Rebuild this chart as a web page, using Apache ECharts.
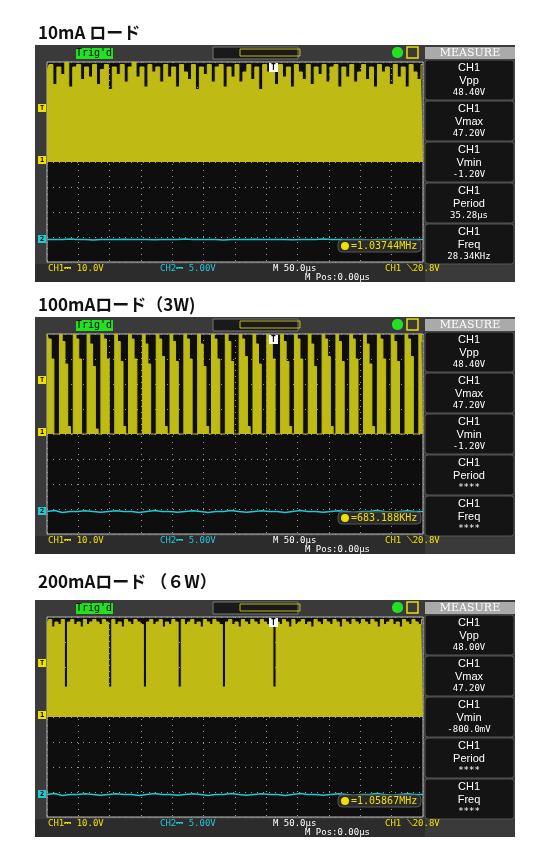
<!DOCTYPE html>
<html><head><meta charset="utf-8">
<script src="https://cdn.jsdelivr.net/npm/echarts@6/dist/echarts.min.js"></script>
<style>html,body{margin:0;padding:0;background:#fff}#c{width:545px;height:855px}</style>
</head><body><div id="c"></div>
<script>
const titles = ['10mA ロード', '100mAロード（3W)', '200mAロード （６W）'];
const measureLabels = ['Vpp', 'Vmax', 'Vmin', 'Period', 'Freq'];
const measureValues = [
  ['48.40V', '47.20V', '-1.20V', '35.28μs', '28.34KHz'],
  ['48.40V', '47.20V', '-1.20V', '****', '****'],
  ['48.00V', '47.20V', '-800.0mV', '****', '****']
];
const freqTexts = ['=1.03744MHz', '=683.188KHz', '=1.05867MHz'];
// CH1 top envelope (V), samples across the screen
const p1Top = [36,39,31,38,35,40,30,38,39,33,38,34,39,31,37,39,29,38,35,39,32,38,40,34,38,30,39,36,38,32,39,34,38,30,39,36,33,39,29,38,35,39,32,38,39,30,38,34,39,32,36,39,33,38,29,39,36,38,31,39,34,38,30,39,36,33,39,31,38,35,39,32,38,39,30,38,34,39,32,36,39,33,38,30,39,36,38,31,39,34,38,30,39,36,33,39];
const p2Top = [40,38,30,0,0,40,37,28,3,0,40,38,30,0,0,40,36,27,2,0,40,38,30,0,0,40,37,29,3,0,40,38,30,0,0,40,36,28,0,0,40,38,31,3,0,40,37,29,0,0,40,38,30,0,0,40,36,27,3,0,40,38,30,0,0,40,37,29,0,0,40,38,31,3,0,40,36,28,0,0,40,38,30,0,0,40,37,29,3,0,40,38,30,0,0,40,36,27,0,0,40,38,31,3,0,40,37,29,0,0,40,38,30,0,0,40,36,28,3,0,40,38,30,0,0,40,37,29,0,0,40,38,31,0,0,40,37];
const p3Top = [37,39,36,38,37,39,12,38,39,37,38,36,39,37,38,39,38,37,39,38,12,39,37,38,36,39,38,37,39,38,37,12,38,39,37,38,39,36,38,37,39,38,12,39,37,38,39,37,38,36,39,38,37,39,38,37,12,38,39,37,38,36,39,38,37,39,38,37,39,38,37,39,12,38,37,39,38,36,39,37,38,39,37,38,36,39,38,37,39,38,37,39,38,36,39,38,37,39,38,37,39,38,37,39,38,36,39,37,38,39,37,38,36,39,38,37,39,38,37,39];
const ch2A = [-31,-31,-31,-30.8,-31,-31,-31.2,-31,-31,-31,-30.9,-31,-31,-31,-31.1,-31,-31,-31,-30.8,-31,-31,-31,-31,-31.2,-31,-31,-31,-30.9,-31,-31,-31,-31,-31.1,-31,-31,-31,-30.8,-31,-31,-31,-31,-31,-31.2,-31,-31,-31,-30.9,-31,-31,-31];
const ch2B = [-31,-30.6,-31.4,-31,-31,-30.7,-31,-31.3,-31,-30.7,-31,-31,-31.4,-31,-30.6,-31,-31,-31.3,-31,-30.7,-31,-31.4,-31,-31,-30.6,-31,-31.3,-31,-30.7,-31,-31,-31.4,-31,-30.6,-31,-31,-31.3,-31,-30.7,-31,-31.4,-31,-31,-30.6,-31,-31.3,-31,-30.7,-31,-31];
const tops = [p1Top, p2Top, p3Top];
const ch2s = [ch2A, ch2B, ch2B];
const offs = [0, 272, 555];
const YEL = '#bfbb14', CYA = '#22c8d2';

const grids = [], xAxes = [], yAxes = [], series = [], graphic = [];
offs.forEach((o, i) => {
  const top = tops[i];
  grids.push({left: 47, top: 62 + o, width: 376, height: 200, show: true, backgroundColor: '#0e0e0e', borderColor: '#bbbbbb', borderWidth: 1});
  xAxes.push({type: 'category', gridIndex: i, data: top.map((_, k) => k), boundaryGap: false,
    axisLine: {show: false}, axisTick: {show: false}, axisLabel: {show: false},
    splitLine: {show: false}});
  xAxes.push({type: 'category', gridIndex: i, data: ch2s[i].map((_, k) => k), boundaryGap: false, show: true,
    axisLine: {show: false}, axisTick: {show: false}, axisLabel: {show: false},
    splitLine: {show: false}});
  xAxes.push({type: 'value', gridIndex: i, min: 0, max: 12, interval: 1, show: true,
    axisLine: {show: false}, axisTick: {show: false}, axisLabel: {show: false},
    splitLine: {show: true, lineStyle: {color: '#9a9a9a', type: [1, 5]}}});
  yAxes.push({type: 'value', gridIndex: i, min: -40, max: 40, interval: 10,
    axisLine: {show: false}, axisTick: {show: false}, axisLabel: {show: false},
    splitLine: {show: true, lineStyle: {color: '#9a9a9a', type: [1, 5]}}});
  series.push({type: 'line', step: 'middle', xAxisIndex: 3 * i, yAxisIndex: i, data: top, symbol: 'none',
    lineStyle: {color: YEL, width: 1}, areaStyle: {color: YEL, opacity: 1, origin: 0}, animation: false, silent: true});
  series.push({type: 'line', xAxisIndex: 3 * i + 1, yAxisIndex: i, data: ch2s[i], symbol: 'none',
    lineStyle: {color: CYA, width: 1.5}, animation: false, silent: true});

  graphic.push({type: 'text', left: 38, top: 24 + o + (i === 2 ? -6 : 0), style: {text: titles[i], font: 'bold 17px "Noto Sans CJK JP", sans-serif', fill: '#111'}});
  graphic.push({type: 'rect', shape: {x: 35, y: 45 + o, width: 480, height: 237}, style: {fill: '#3a3a3a'}, z: -5});
  graphic.push({type: 'rect', shape: {x: 35, y: 264 + o, width: 390, height: 18}, style: {fill: '#2c2c2c'}, z: -4});
  graphic.push({type: 'rect', shape: {x: 76, y: 48 + o, width: 37, height: 11}, style: {fill: '#22e022'}, z: 10});
  graphic.push({type: 'text', x: 94, y: 53.5 + o, style: {text: "Trig'd", font: '10px "DejaVu Sans Mono", monospace', fill: '#000', align: 'center', verticalAlign: 'middle'}, z: 11});
  graphic.push({type: 'rect', shape: {x: 213, y: 47 + o, width: 85, height: 12}, style: {fill: '#1a1a1a', stroke: '#777', lineWidth: 1}, z: 10});
  graphic.push({type: 'rect', shape: {x: 240, y: 49 + o, width: 60, height: 7}, style: {fill: 'none', stroke: YEL, lineWidth: 1}, z: 11});
  graphic.push({type: 'rect', shape: {x: 392, y: 47 + o, width: 11, height: 11, r: 5}, style: {fill: '#22e022'}, z: 10});
  graphic.push({type: 'rect', shape: {x: 407, y: 47 + o, width: 11, height: 11}, style: {fill: 'none', stroke: '#e8e000', lineWidth: 1.5}, z: 10});
  graphic.push({type: 'rect', shape: {x: 425, y: 47 + o, width: 90, height: 12}, style: {fill: '#aaaaaa'}, z: 10});
  graphic.push({type: 'text', x: 470, y: 53.5 + o, style: {text: 'MEASURE', font: '11px "DejaVu Serif", serif', fill: '#fff', align: 'center', verticalAlign: 'middle'}, z: 11});
  measureLabels.forEach((lab, k) => {
    const y0 = 60 + o + k * 41;
    graphic.push({type: 'rect', shape: {x: 425, y: y0, width: 89, height: 40, r: 3}, style: {fill: '#141414', stroke: '#555', lineWidth: 1}, z: 10});
    graphic.push({type: 'text', x: 469, y: y0 + 8, style: {text: 'CH1', font: '11px "Liberation Sans", sans-serif', fill: '#fff', align: 'center', verticalAlign: 'middle'}, z: 11});
    graphic.push({type: 'text', x: 469, y: y0 + 21, style: {text: lab, font: '11px "Liberation Sans", sans-serif', fill: '#fff', align: 'center', verticalAlign: 'middle'}, z: 11});
    graphic.push({type: 'text', x: 469, y: y0 + 33, style: {text: measureValues[i][k], font: '9px "DejaVu Sans Mono", monospace', fill: '#fff', align: 'center', verticalAlign: 'middle'}, z: 11});
  });
  [['T', 108], ['1', 160], ['2', 239]].forEach(([t, y]) => {
    graphic.push({type: 'rect', shape: {x: 38, y: y - 4 + o, width: 8, height: 8}, style: {fill: t === '2' ? CYA : '#f0e000'}, z: 10});
    graphic.push({type: 'text', x: 42, y: y + o, style: {text: t, font: 'bold 7px monospace', fill: '#000', align: 'center', verticalAlign: 'middle'}, z: 11});
  });
  graphic.push({type: 'rect', shape: {x: 269, y: 63 + o, width: 9, height: 9}, style: {fill: '#fff'}, z: 12});
  graphic.push({type: 'text', x: 273.5, y: 67.5 + o, style: {text: 'T', font: 'bold 8px monospace', fill: '#000', align: 'center', verticalAlign: 'middle'}, z: 13});
  graphic.push({type: 'rect', shape: {x: 338, y: 240 + o, width: 83, height: 12, r: 4}, style: {fill: '#2a2a2a', stroke: '#555'}, z: 12});
  graphic.push({type: 'rect', shape: {x: 341, y: 242 + o, width: 8, height: 8, r: 4}, style: {fill: '#f0e000'}, z: 13});
  graphic.push({type: 'text', x: 351, y: 246 + o, style: {text: freqTexts[i], font: '10px "DejaVu Sans Mono", monospace', fill: '#f0e000', verticalAlign: 'middle'}, z: 13});
  const st = [['CH1⎓ 10.0V', 48, '#f0e000'], ['CH2⎓ 5.00V', 160, CYA], ['M 50.0μs', 273, '#fff'], ['CH1 ⟍20.8V', 385, '#f0e000']];
  st.forEach(([t, x, c]) => graphic.push({type: 'text', x: x, y: 269 + o, style: {text: t, font: '9px "DejaVu Sans Mono", monospace', fill: c, verticalAlign: 'middle'}, z: 13}));
  graphic.push({type: 'text', x: 305, y: 278 + o, style: {text: 'M Pos:0.00μs', font: '9px "DejaVu Sans Mono", monospace', fill: '#fff', verticalAlign: 'middle'}, z: 13});
});

const chart = echarts.init(document.getElementById('c'));
chart.setOption({backgroundColor: '#fff', animation: false, grid: grids, xAxis: xAxes, yAxis: yAxes, series: series, graphic: graphic});
</script></body></html>
